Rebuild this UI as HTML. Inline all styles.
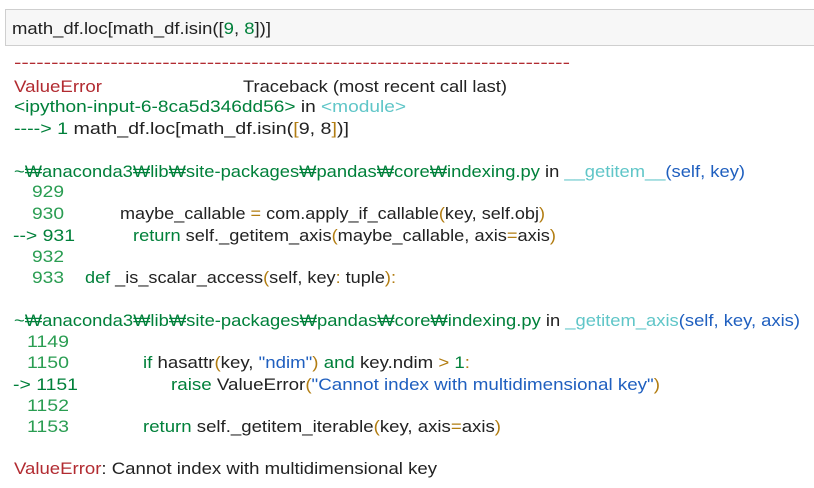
<!DOCTYPE html>
<html><head><meta charset="utf-8"><style>
html,body{margin:0;padding:0;background:#fff;width:814px;height:488px;overflow:hidden}
svg{display:block}
text{font-family:"Liberation Sans","NanumGothic",sans-serif;font-size:16.5px;fill:#222}
.g{fill:#00803a}.n{fill:#2a9d52}.c{fill:#60c6c8}.r{fill:#b22b31}.y{fill:#b27d12}.b{fill:#1f5fbf}.k{fill:#222}
</style></head><body>
<svg width="814" height="488" viewBox="0 0 814 488" xmlns="http://www.w3.org/2000/svg">
<rect x="5.5" y="9.5" width="820" height="36" fill="#f7f7f7" stroke="#cfcfcf"/>
<text x="12" y="34" textLength="259" lengthAdjust="spacingAndGlyphs">math_df.loc[math_df.isin([<tspan class="g">9</tspan>, <tspan class="g">8</tspan>])]</text>
<text x="14" y="68" class="r" textLength="556" lengthAdjust="spacingAndGlyphs">---------------------------------------------------------------------------</text>
<text x="14" y="92" class="r" textLength="88" lengthAdjust="spacingAndGlyphs">ValueError</text>
<text x="243" y="92" textLength="264" lengthAdjust="spacingAndGlyphs">Traceback (most recent call last)</text>
<text x="14" y="112" textLength="392" lengthAdjust="spacingAndGlyphs"><tspan class="g">&lt;ipython-input-6-8ca5d346dd56&gt;</tspan> in <tspan class="c">&lt;module&gt;</tspan></text>
<text x="14" y="134" textLength="335" lengthAdjust="spacingAndGlyphs"><tspan class="g">----&gt; 1</tspan> math_df.loc[math_df.isin(<tspan class="y">[</tspan>9, 8<tspan class="y">]</tspan>)]</text>

<text x="14" y="177" textLength="731" lengthAdjust="spacingAndGlyphs"><tspan class="g">~₩anaconda3₩lib₩site-packages₩pandas₩core₩indexing.py</tspan> in <tspan class="c">__getitem__</tspan><tspan class="b">(self, key)</tspan></text>
<text x="32" y="197" class="n" textLength="32" lengthAdjust="spacingAndGlyphs">929</text>
<text x="32" y="219" class="n" textLength="32" lengthAdjust="spacingAndGlyphs">930</text>
<text x="120" y="219" textLength="425" lengthAdjust="spacingAndGlyphs">maybe_callable <tspan class="y">=</tspan> com.apply_if_callable<tspan class="y">(</tspan>key, self.obj<tspan class="y">)</tspan></text>
<text x="13" y="241" class="g" textLength="62" lengthAdjust="spacingAndGlyphs">--&gt; 931</text>
<text x="133" y="241" textLength="423" lengthAdjust="spacingAndGlyphs"><tspan class="g">return</tspan> self._getitem_axis<tspan class="y">(</tspan>maybe_callable, axis<tspan class="y">=</tspan>axis<tspan class="y">)</tspan></text>
<text x="32" y="262" class="n" textLength="32" lengthAdjust="spacingAndGlyphs">932</text>
<text x="32" y="283" class="n" textLength="32" lengthAdjust="spacingAndGlyphs">933</text>
<text x="85" y="283" textLength="311" lengthAdjust="spacingAndGlyphs"><tspan class="g">def</tspan> _is_scalar_access<tspan class="y">(</tspan>self, key<tspan class="y">:</tspan> tuple<tspan class="y">):</tspan></text>

<text x="14" y="326" textLength="786" lengthAdjust="spacingAndGlyphs"><tspan class="g">~₩anaconda3₩lib₩site-packages₩pandas₩core₩indexing.py</tspan> in <tspan class="c">_getitem_axis</tspan><tspan class="b">(self, key, axis)</tspan></text>
<text x="27" y="347" class="n" textLength="42" lengthAdjust="spacingAndGlyphs">1149</text>
<text x="27" y="368" class="n" textLength="42" lengthAdjust="spacingAndGlyphs">1150</text>
<text x="143" y="368" textLength="327" lengthAdjust="spacingAndGlyphs"><tspan class="g">if</tspan> hasattr<tspan class="y">(</tspan>key, <tspan class="b">"ndim"</tspan><tspan class="y">)</tspan> <tspan class="g">and</tspan> key.ndim <tspan class="y">&gt;</tspan> <tspan class="g">1</tspan><tspan class="y">:</tspan></text>
<text x="13" y="390" class="g" textLength="65" lengthAdjust="spacingAndGlyphs">-&gt; 1151</text>
<text x="171" y="390" textLength="489" lengthAdjust="spacingAndGlyphs"><tspan class="g">raise</tspan> ValueError<tspan class="y">(</tspan><tspan class="b">"Cannot index with multidimensional key"</tspan><tspan class="y">)</tspan></text>
<text x="27" y="411" class="n" textLength="42" lengthAdjust="spacingAndGlyphs">1152</text>
<text x="27" y="432" class="n" textLength="42" lengthAdjust="spacingAndGlyphs">1153</text>
<text x="143" y="432" textLength="358" lengthAdjust="spacingAndGlyphs"><tspan class="g">return</tspan> self._getitem_iterable<tspan class="y">(</tspan>key, axis<tspan class="y">=</tspan>axis<tspan class="y">)</tspan></text>

<text x="14" y="474" textLength="423" lengthAdjust="spacingAndGlyphs"><tspan class="r">ValueError</tspan>: Cannot index with multidimensional key</text>
</svg>
</body></html>
